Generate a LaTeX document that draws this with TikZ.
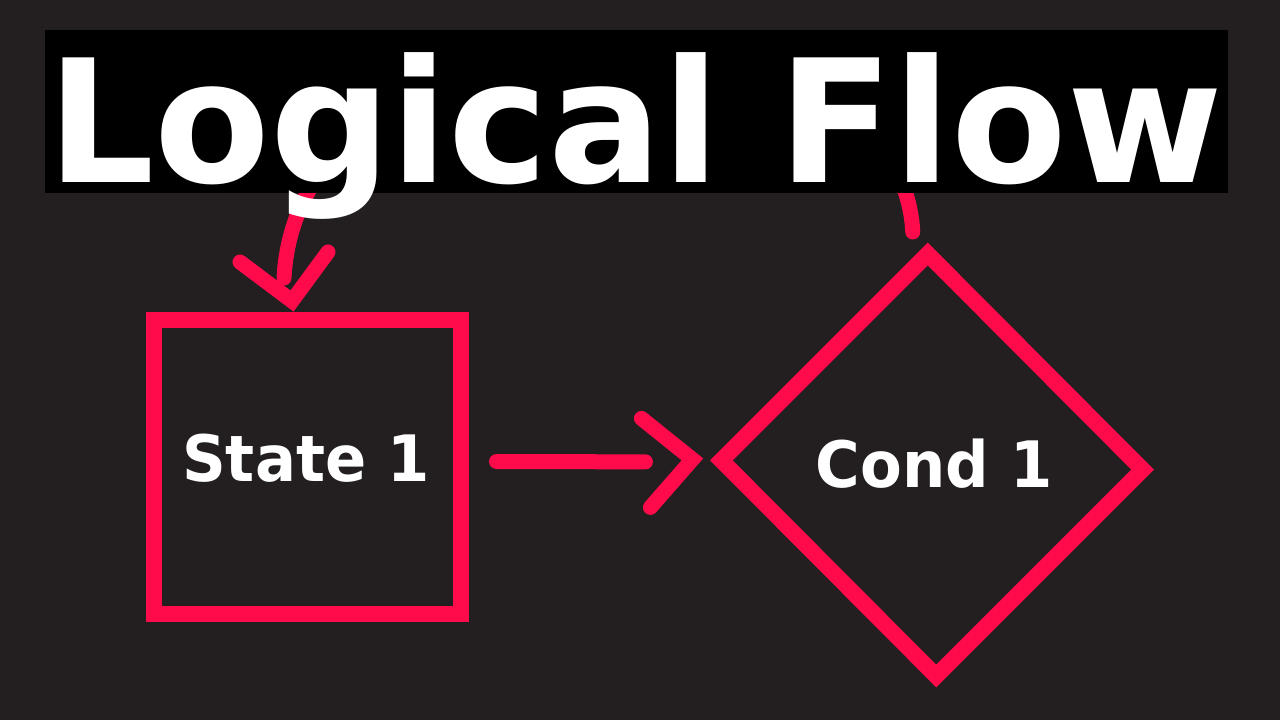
\documentclass[tikz,border=0pt]{standalone}
\usepackage{fontspec}
\setmainfont{DejaVu Sans}
\usetikzlibrary{shapes.geometric,calc}
\definecolor{bgdark}{RGB}{35,31,32}
\definecolor{hotpink}{RGB}{255,10,75}
\tikzset{
  stroke/.style={draw=hotpink,line width=15pt,line cap=round},
  statebox/.style={rectangle,draw=hotpink,line width=16pt,minimum width=307pt,minimum height=294pt,inner sep=0pt,outer sep=0pt},
  condbox/.style={diamond,draw=hotpink,line width=16pt,minimum width=421pt,minimum height=422pt,inner sep=0pt,outer sep=0pt,xslant=-0.02,yslant=-0.022},
  lbl/.style={text=white,font=\bfseries\fontsize{64}{64}\selectfont\addfontfeature{FakeStretch=0.95},inner sep=0pt,anchor=base},
  titlebg/.style={fill=black,minimum width=1183pt,minimum height=163pt,inner sep=0pt},
  titletxt/.style={text=white,font=\bfseries\fontsize{171}{171}\selectfont\addfontfeature{FakeStretch=0.985},inner sep=0pt,anchor=base}
}
\begin{document}
\begin{tikzpicture}[x=1pt,y=-1pt]
\fill[bgdark] (0,0) rectangle (1280,720);
\useasboundingbox (0,0) rectangle (1280,720);
% nodes (shapes)
\node[statebox] (s1) at (307,467) {};
\node[condbox] (c1) at (932,465) {};
% loop connector, passing behind the title
\draw[stroke] ($(c1.north)+(-15,-22)$) .. controls (900,-20) and (300,-20) .. ($(s1.north)+(-23,-42)$);
% title
\node[titlebg] (tbg) at (636.5,111.5) {};
\node[titletxt] (ttxt) at (635,182) {Logical Flow};
% labels
\node[lbl] (s1t) at (306,481) {State 1};
\node[lbl] (c1t) at (934,487) {Cond 1};
% arrow head into the state box
\draw[stroke] ($(s1.north)+(-67,-58)$) -- ($(s1.north)+(-15,-19)$) -- ($(s1.north)+(21,-68)$);
% arrow from state to condition
\draw[stroke] ($(s1.east)+(36,-5.5)$) -- ($(c1.west)+(-76,1.5)$);
\draw[stroke] ($(c1.west)+(-80,-42)$) -- ($(c1.west)+(-29,-1)$) -- ($(c1.west)+(-71,47)$);
\end{tikzpicture}
\end{document}
